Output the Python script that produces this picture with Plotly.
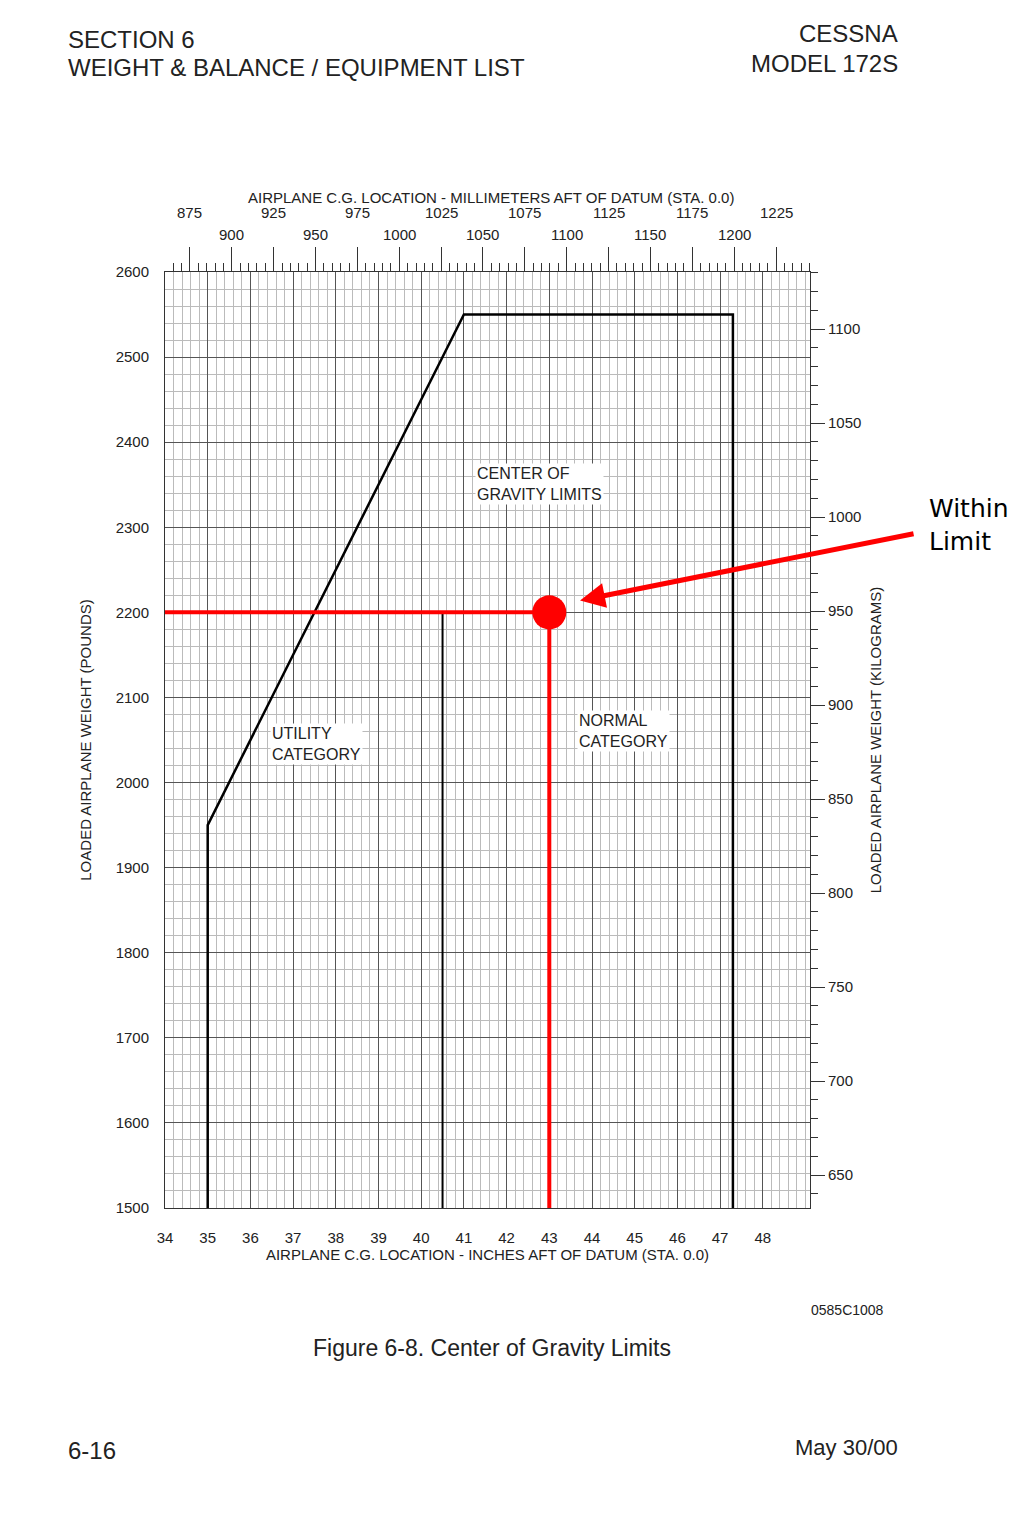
import plotly.graph_objects as go

# data
env_x = [35, 35, 41, 47.3, 47.3]
env_y = [1500, 1950, 2550, 2550, 1500]
util_x = [40.5, 40.5]
util_y = [1500, 2200]
cg_in = 43
weight_lb = 2200
x_ticks = list(range(34, 49))
y_ticks = list(range(1500, 2700, 100))
kg_ticks = list(range(650, 1150, 50))
mm_ticks = list(range(875, 1250, 25))

W, H = 1000, 1500
OFF = 8
def px(p): return (p - OFF) / W
def py(p): return 1 - (p - OFF) / H

x0, x1, yt, yb = 165, 810, 272, 1208
dom_x = [px(x0), px(x1)]
dom_y = [py(yb), py(yt)]
xr = [34, 34 + (x1 - x0) / 42.7]
mmr = [875 - 25 * 25 / 41.9, 875 + (x1 - 190) / (586 / 350)]
kgr = [650 - (yb - 1175) / 1.88, 650 + (1175 - yt) / 1.88]
F = "Liberation Sans"

fig = go.Figure()
fig.add_trace(go.Scatter(x=env_x, y=env_y, mode="lines", line=dict(color="black", width=2.5), hoverinfo="skip"))
fig.add_trace(go.Scatter(x=util_x, y=util_y, mode="lines", line=dict(color="black", width=2), hoverinfo="skip"))
fig.add_trace(go.Scatter(x=[34, cg_in, cg_in], y=[weight_lb, weight_lb, 1500], mode="lines",
                         line=dict(color="red", width=4), hoverinfo="skip"))
fig.add_trace(go.Scatter(x=[cg_in], y=[weight_lb], mode="markers",
                         marker=dict(color="red", size=34), hoverinfo="skip"))
fig.add_trace(go.Scatter(x=[900], y=[1000], xaxis="x2", yaxis="y2", mode="markers",
                         marker=dict(opacity=0), hoverinfo="skip"))

grid = dict(showgrid=True, gridcolor="#555", gridwidth=1)
fig.update_layout(
    width=W, height=H, margin=dict(l=0, r=0, t=0, b=0), showlegend=False,
    paper_bgcolor="white", plot_bgcolor="white", font=dict(family=F, color="#222"),
    xaxis=dict(domain=dom_x, range=xr, tickvals=x_ticks, ticks="outside", ticklen=16, tickcolor="rgba(0,0,0,0)",
               **grid, automargin=False,
               minor=dict(dtick=0.2, showgrid=True, gridcolor="#bbb", gridwidth=1),
               tickfont=dict(size=15), zeroline=False, showline=True, linecolor="#333", mirror=False,
               title=dict(text="AIRPLANE C.G. LOCATION - INCHES AFT OF DATUM (STA. 0.0)",
                          font=dict(size=15), standoff=2)),
    yaxis=dict(domain=dom_y, range=[1500, 2600], tickvals=y_ticks, ticks="outside", ticklen=12,
               tickcolor="rgba(0,0,0,0)", **grid, automargin=False,
               minor=dict(dtick=20, showgrid=True, gridcolor="#bbb", gridwidth=1),
               tickfont=dict(size=15), zeroline=False, showline=True, linecolor="#333",
               title=dict(text="LOADED AIRPLANE WEIGHT (POUNDS)", font=dict(size=15), standoff=20)),
    xaxis2=dict(overlaying="x", side="top", range=mmr, anchor="y", tickvals=mm_ticks, ticktext=[""] * len(mm_ticks),
                ticks="outside", ticklen=24, tickcolor="#333", showgrid=False, zeroline=False, automargin=False,
                minor=dict(dtick=5, ticks="outside", ticklen=8, tickcolor="#333"),
                showline=True, linecolor="#333"),
    yaxis2=dict(overlaying="y", side="right", range=kgr, anchor="x", tickvals=kg_ticks, automargin=False,
                ticks="outside", ticklen=14, tickcolor="#333", tickfont=dict(size=15), showgrid=False, zeroline=False,
                minor=dict(dtick=10, ticks="outside", ticklen=7, tickcolor="#333"),
                showline=True, linecolor="#333",
                title=dict(text="LOADED AIRPLANE WEIGHT (KILOGRAMS)", font=dict(size=15), standoff=10)),
)

for i, v in enumerate(mm_ticks):
    fig.add_annotation(x=v, xref="x2", y=py(212 if i % 2 == 0 else 235), yref="paper",
                       text=str(v), showarrow=False, font=dict(size=15), yanchor="middle")
fig.add_annotation(x=px((182 + 800) / 2), xref="paper", y=py(187), yref="paper", showarrow=False,
                   text="AIRPLANE C.G. LOCATION - MILLIMETERS AFT OF DATUM (STA. 0.0)", font=dict(size=15))

def ptxt(x, y, t, size, anchor="left", bg=None):
    fig.add_annotation(x=px(x), y=py(y), xref="paper", yref="paper", text=t, showarrow=False,
                       xanchor=anchor, yanchor="middle", align="left", font=dict(size=size, color="#222"),
                       bgcolor=bg)

ptxt(66, 40, "SECTION 6", 24)
ptxt(66, 67, "WEIGHT & BALANCE / EQUIPMENT LIST", 24)
ptxt(900, 34, "CESSNA", 24, "right")
ptxt(900, 64, "MODEL 172S", 24, "right")
ptxt(886, 1310, "0585C1008", 14, "right")
ptxt(492, 1348, "Figure 6-8. Center of Gravity Limits", 23, "center")
ptxt(66, 1450, "6-16", 24)
ptxt(900, 1447, "May 30/00", 22, "right")
ptxt(475, 484, "CENTER OF<br>GRAVITY LIMITS", 16, bg="white")
ptxt(270, 744, "UTILITY<br>CATEGORY", 16, bg="white")
ptxt(577, 731, "NORMAL<br>CATEGORY", 16, bg="white")
fig.add_annotation(x=43.72, y=2214, xref="x", yref="y", ax=335, ay=-67, showarrow=True,
                   arrowhead=2, arrowsize=1, arrowwidth=5, arrowcolor="red", text="")
fig.add_annotation(x=px(927), y=py(525), xref="paper", yref="paper", text="Within<br>Limit",
                   showarrow=False, xanchor="left", align="left", font=dict(size=25, family="DejaVu Sans", color="black"))

fig.write_html("out.html")
